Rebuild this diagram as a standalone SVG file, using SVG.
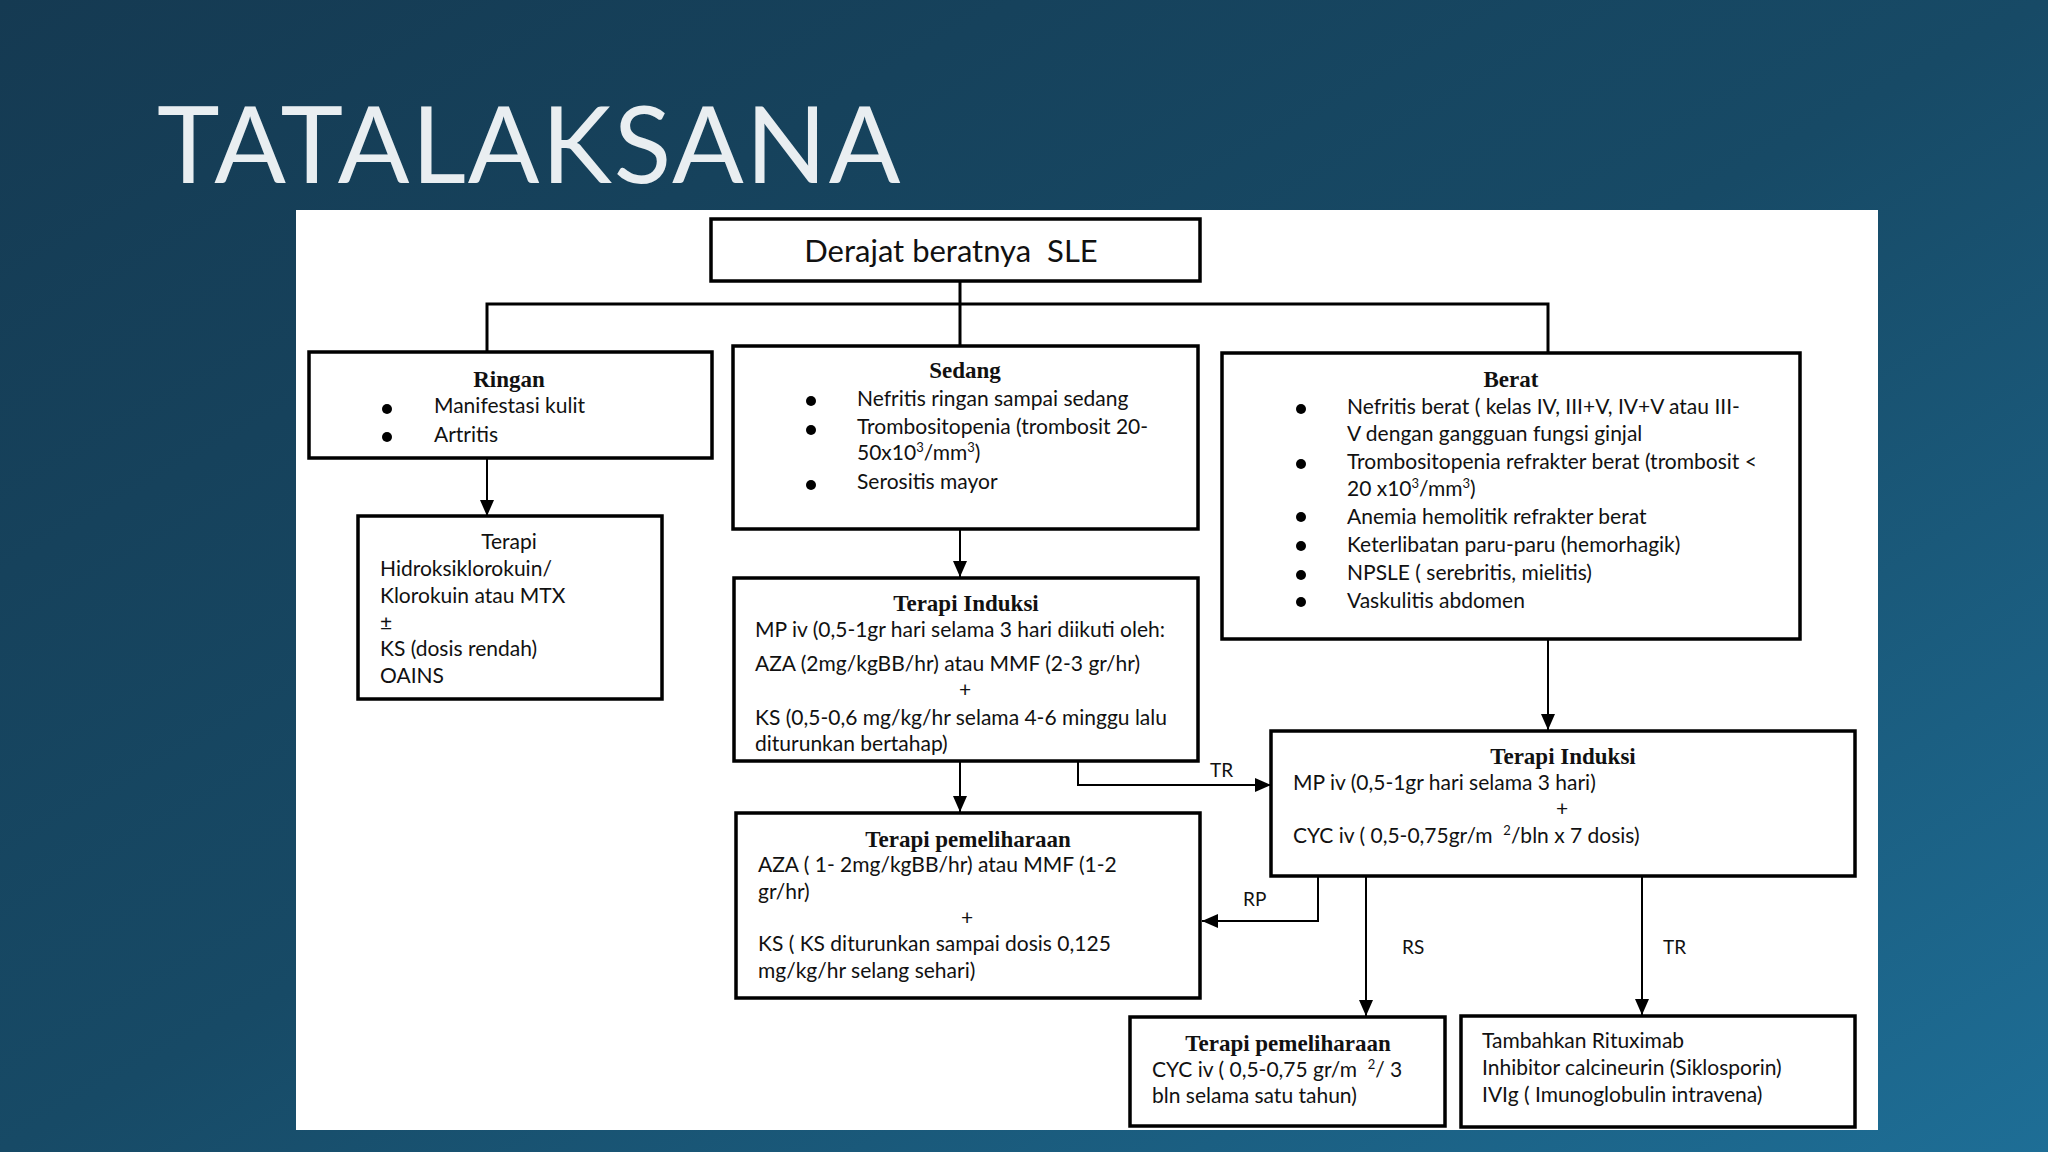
<svg xmlns="http://www.w3.org/2000/svg" width="2048" height="1152" viewBox="0 0 2048 1152">
<defs>
<linearGradient id="bg" x1="0" y1="0" x2="1" y2="1">
<stop offset="0" stop-color="#153a52"/>
<stop offset="0.5" stop-color="#174a66"/>
<stop offset="1" stop-color="#1e6e96"/>
</linearGradient>
<marker id="arr" markerUnits="userSpaceOnUse" markerWidth="16" markerHeight="16" viewBox="0 0 16 16" refX="16" refY="8" orient="auto">
<path d="M0,1 L16,8 L0,15 Z" fill="#000"/>
</marker>
<style>
text{white-space:pre}
.box{fill:#fff;stroke:#000;stroke-width:3.5}
.t{font-family:Lato,"Liberation Sans",sans-serif;font-size:21px;fill:#111}
.h{font-family:"Liberation Serif",serif;font-weight:bold;font-size:23px;fill:#111;text-anchor:middle}
.c{text-anchor:middle}
.ln{fill:none;stroke:#000;stroke-width:2}
.tk{fill:none;stroke:#000;stroke-width:3}
.lb{font-family:Lato,"Liberation Sans",sans-serif;font-size:19px;fill:#111}
.sup{font-size:13px}
</style>
</defs>
<rect width="2048" height="1152" fill="url(#bg)"/>
<text x="157" y="183" font-family="Lato,'Liberation Sans',sans-serif" font-size="106" letter-spacing="2" fill="#e9eef1">TATALAKSANA</text>
<rect x="296" y="210" width="1582" height="920" fill="#fff"/>

<g id="connectors">
<path class="tk" d="M960,281 V345"/>
<path class="tk" d="M487,351 V304 H1548 V353"/>
<path class="ln" d="M487,458 V516" marker-end="url(#arr)"/>
<path class="ln" d="M960,529 V577" marker-end="url(#arr)"/>
<path class="ln" d="M960,761 V812" marker-end="url(#arr)"/>
<path class="ln" d="M1078,761 V785 H1271" marker-end="url(#arr)"/>
<path class="ln" d="M1548,639 V730" marker-end="url(#arr)"/>
<path class="ln" d="M1318,876 V921 H1202" marker-end="url(#arr)"/>
<path class="ln" d="M1366,876 V1016" marker-end="url(#arr)"/>
<path class="ln" d="M1642,876 V1015" marker-end="url(#arr)"/>
<text class="lb" x="1210" y="777">TR</text>
<text class="lb" x="1243" y="906">RP</text>
<text class="lb" x="1402" y="954">RS</text>
<text class="lb" x="1663" y="954">TR</text>
</g>

<g id="root">
<rect class="box" x="711" y="219" width="489" height="62"/>
<text x="951" y="262" font-family="Lato,'Liberation Sans',sans-serif" font-size="31" fill="#111" text-anchor="middle">Derajat beratnya  SLE</text>
</g>

<g id="ringan">
<rect class="box" x="309" y="352" width="403" height="106"/>
<text class="h" x="509" y="387">Ringan</text>
<circle cx="387" cy="409" r="5"/>
<circle cx="387" cy="437" r="5"/>
<text class="t" x="434" y="413">Manifestasi kulit</text>
<text class="t" x="434" y="442">Artritis</text>
</g>

<g id="sedang">
<rect class="box" x="733" y="346" width="465" height="183"/>
<text class="h" x="965" y="378">Sedang</text>
<circle cx="811" cy="401" r="5"/>
<circle cx="811" cy="430" r="5"/>
<circle cx="811" cy="485" r="5"/>
<text class="t" x="857" y="406">Nefritis ringan sampai sedang</text>
<text class="t" x="857" y="434">Trombositopenia (trombosit 20-</text>
<text class="t" x="857" y="460">50x10<tspan class="sup" dy="-8">3</tspan><tspan dy="8">/mm</tspan><tspan class="sup" dy="-8">3</tspan><tspan dy="8">)</tspan></text>
<text class="t" x="857" y="489">Serositis mayor</text>
</g>

<g id="berat">
<rect class="box" x="1222" y="353" width="578" height="286"/>
<text class="h" x="1511" y="387">Berat</text>
<circle cx="1301" cy="409" r="5"/>
<circle cx="1301" cy="464" r="5"/>
<circle cx="1301" cy="517" r="5"/>
<circle cx="1301" cy="546" r="5"/>
<circle cx="1301" cy="575" r="5"/>
<circle cx="1301" cy="602" r="5"/>
<text class="t" x="1347" y="414">Nefritis berat ( kelas IV, III+V, IV+V atau III-</text>
<text class="t" x="1347" y="441">V dengan gangguan fungsi ginjal</text>
<text class="t" x="1347" y="469">Trombositopenia refrakter berat (trombosit &lt;</text>
<text class="t" x="1347" y="496">20 x10<tspan class="sup" dy="-8">3</tspan><tspan dy="8">/mm</tspan><tspan class="sup" dy="-8">3</tspan><tspan dy="8">)</tspan></text>
<text class="t" x="1347" y="524">Anemia hemolitik refrakter berat</text>
<text class="t" x="1347" y="552">Keterlibatan paru-paru (hemorhagik)</text>
<text class="t" x="1347" y="580">NPSLE ( serebritis, mielitis)</text>
<text class="t" x="1347" y="608">Vaskulitis abdomen</text>
</g>

<g id="terapi-ringan">
<rect class="box" x="358" y="516" width="304" height="183"/>
<text class="t c" x="509" y="549">Terapi</text>
<text class="t" x="380" y="576">Hidroksiklorokuin/</text>
<text class="t" x="380" y="603">Klorokuin atau MTX</text>
<text class="t" x="380" y="630">±</text>
<text class="t" x="380" y="656">KS (dosis rendah)</text>
<text class="t" x="380" y="683">OAINS</text>
</g>

<g id="induksi-sedang">
<rect class="box" x="734" y="578" width="464" height="183"/>
<text class="h" x="966" y="611">Terapi Induksi</text>
<text class="t" x="755" y="637">MP iv (0,5-1gr hari selama 3 hari diikuti oleh:</text>
<text class="t" x="755" y="671">AZA (2mg/kgBB/hr) atau MMF (2-3 gr/hr)</text>
<text class="t c" x="965" y="697">+</text>
<text class="t" x="755" y="725">KS (0,5-0,6 mg/kg/hr selama 4-6 minggu lalu</text>
<text class="t" x="755" y="751">diturunkan bertahap)</text>
</g>

<g id="pemeliharaan-sedang">
<rect class="box" x="736" y="813" width="464" height="185"/>
<text class="h" x="968" y="847">Terapi pemeliharaan</text>
<text class="t" x="758" y="872">AZA ( 1- 2mg/kgBB/hr) atau MMF (1-2</text>
<text class="t" x="758" y="899">gr/hr)</text>
<text class="t c" x="967" y="925">+</text>
<text class="t" x="758" y="951">KS ( KS diturunkan sampai dosis 0,125</text>
<text class="t" x="758" y="978">mg/kg/hr selang sehari)</text>
</g>

<g id="induksi-berat">
<rect class="box" x="1271" y="731" width="584" height="145"/>
<text class="h" x="1563" y="764">Terapi Induksi</text>
<text class="t" x="1293" y="790">MP iv (0,5-1gr hari selama 3 hari)</text>
<text class="t c" x="1562" y="816">+</text>
<text class="t" x="1293" y="843">CYC iv ( 0,5-0,75gr/m  <tspan class="sup" dy="-8">2</tspan><tspan dy="8">/bln x 7 dosis)</tspan></text>
</g>

<g id="pemeliharaan-berat">
<rect class="box" x="1130" y="1017" width="315" height="109"/>
<text class="h" x="1288" y="1051">Terapi pemeliharaan</text>
<text class="t" x="1152" y="1077">CYC iv ( 0,5-0,75 gr/m  <tspan class="sup" dy="-8">2</tspan><tspan dy="8">/ 3</tspan></text>
<text class="t" x="1152" y="1103">bln selama satu tahun)</text>
</g>

<g id="tambahan">
<rect class="box" x="1461" y="1016" width="394" height="111"/>
<text class="t" x="1482" y="1048">Tambahkan Rituximab</text>
<text class="t" x="1482" y="1075">Inhibitor calcineurin (Siklosporin)</text>
<text class="t" x="1482" y="1102">IVIg ( Imunoglobulin intravena)</text>
</g>
</svg>
